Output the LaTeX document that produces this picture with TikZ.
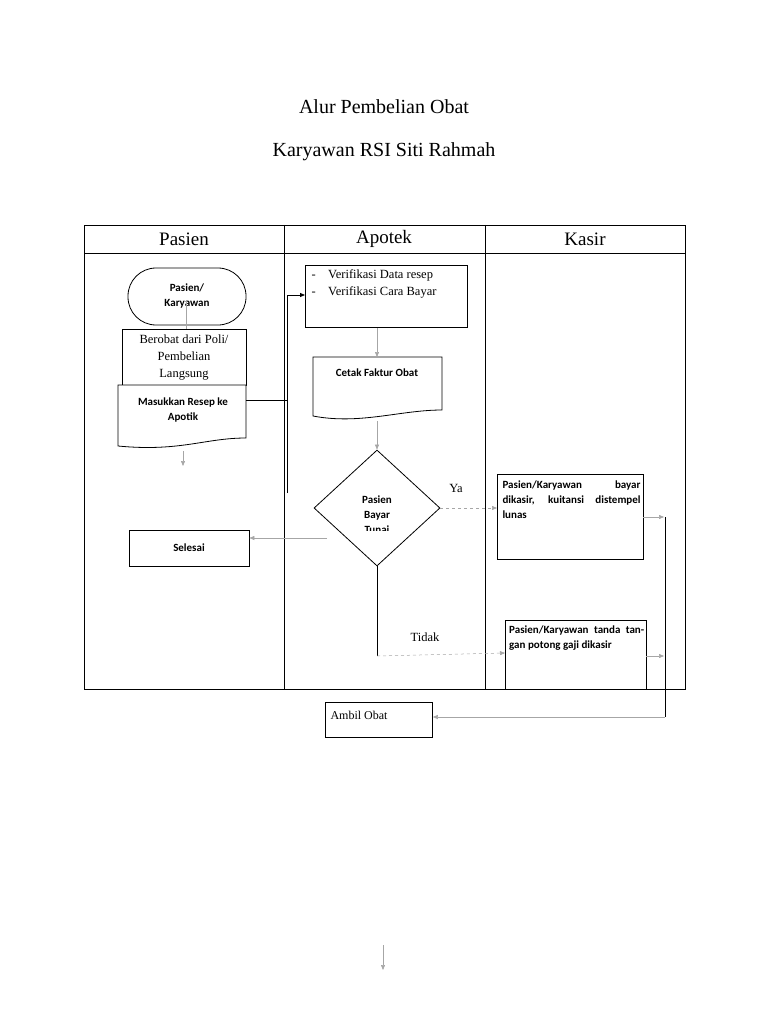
\documentclass[tikz,border=0pt]{standalone}
\usepackage{fontspec}
\setmainfont{Liberation Serif}
\newfontfamily\sansb{Carlito}
\usetikzlibrary{arrows.meta,shapes.geometric}
\begin{document}
\begin{tikzpicture}[x=1pt,y=-1pt,
  line/.style={draw=black,line width=0.8pt},
  arr/.style={-{Triangle[length=5pt,width=4pt]}},
  gr/.style={draw=black!35,line width=0.5pt},
  bt/.style={font=\sansb\bfseries\fontsize{11}{15}\selectfont,align=center},
  st/.style={font=\fontsize{12.5}{17}\selectfont,align=center}]
\useasboundingbox (0,0) rectangle (768,1024);
\node (t1) at (384,107) {\fontsize{20}{24}\selectfont Alur Pembelian Obat};
\node (t2) at (384,152) {\fontsize{20}{24}\selectfont Karyawan RSI Siti Rahmah};
% table
\draw[line] (84,225) rectangle (685,689);
\draw[line] (84,253) -- (685,253);
\draw[line] (284,225) -- (284,689);
\draw[line] (485,225) -- (485,689);
\node (h1) at (184,239) {\fontsize{19}{22}\selectfont Pasien};
\node (h2) at (384,239) {\fontsize{19}{22}\selectfont Apotek};
\node (h3) at (585,239) {\fontsize{19}{22}\selectfont Kasir};
% Pasien lane
\node[line,fill=white,rounded corners=28pt,minimum width=118pt,minimum height=57pt,bt] (start) at (187,296.5) {Pasien/\\Karyawan};
\draw[gr] (186,300) -- (186,329);
\node[line,fill=white,minimum width=124pt,minimum height=56pt,st,anchor=north west,inner sep=2pt,text depth=0pt] (berobat) at (122,329) {};
\begin{scope}
\clip (122,329) rectangle (246,385);
\node[st] (bt1) at (184,358) {Berobat dari Poli/\\Pembelian\\Langsung};
\end{scope}
\draw[line,fill=white] (118,385) -- (246,385) -- (246,438) .. controls (205,438) and (180,452) .. (118,446) -- cycle;
\node[bt] (masuk) at (183,410) {Masukkan Resep ke\\Apotik};
\coordinate (mr) at (246,400);
\coordinate (j1) at (287,400);
\coordinate (jt) at (287,295);
\coordinate (jb) at (287,493);
\draw[line] (mr) -- (j1);
\draw[line] (jb) -- (jt);
\coordinate (d1) at (183,451);
\coordinate (d2) at (183,466);
\draw[gr,arr] (d1) -- (d2);
\node[line,minimum width=120pt,minimum height=36pt,bt] (selesai) at (189,548) {Selesai};
% Apotek lane
\node[line,minimum width=162pt,minimum height=62pt,anchor=north west] (verif) at (305,265) {};
\node[font=\fontsize{12.5}{17}\selectfont,align=left,anchor=north west] (vt) at (308,266) {-\quad Verifikasi Data resep\\-\quad Verifikasi Cara Bayar};
\draw[line,arr] (jt) -- (verif.west|-jt);
\draw[line] (313,357) -- (442,357) -- (442,410) .. controls (400,410) and (360,425) .. (313,416) -- cycle;
\node[bt] (cetak) at (377,373) {Cetak Faktur Obat};
\coordinate (cettop) at (377,357);
\coordinate (cetbot) at (377,421);
\draw[gr,arr] (verif.south-|cettop) -- (cettop);
\node[line,diamond,minimum width=126pt,minimum height=116pt,inner sep=0pt] (dia) at (377,508) {};
\draw[gr,arr] (cetbot) -- (dia.north);
\begin{scope}
\clip (330,480) rectangle (430,530);
\node[bt] (dt) at (377,515) {Pasien\\Bayar\\Tunai};
\end{scope}
\node (ya) at (456,488) {\fontsize{12.5}{15}\selectfont Ya};
\node (tidak) at (425,637) {\fontsize{12.5}{15}\selectfont Tidak};
\coordinate (sl) at (327,538);
\draw[gr,arr] (sl) -- (selesai.east|-sl);
% Kasir
\node[line,minimum width=146pt,minimum height=85pt,anchor=north west] (k1) at (497,474) {};
\node[bt,text width=138pt,align=justify,anchor=north west] (k1t) at (499,477) {Pasien/Karyawan bayar dikasir, kuitansi distempel lunas};
\draw[line] (505,689) -- (505,620) -- (646,620) -- (646,689);
\node[bt,text width=135pt,align=justify,anchor=north west,inner sep=2pt] (k2t) at (507,624) {Pasien/Karyawan tanda tangan potong gaji dikasir};
\coordinate (k2w) at (505,653);
\coordinate (dbot) at (377,656);
\draw[gr,dashed,arr] (dia.east) -- (k1.west|-dia.east);
\draw[line] (dia.south) -- (dbot);
\draw[gr,dashed,arr] (dbot) -- (k2w);
\coordinate (r1a) at (643,517);
\coordinate (r1b) at (664,517);
\coordinate (r2a) at (646,656);
\coordinate (r2b) at (664,656);
\coordinate (rc) at (665,717);
\draw[gr,arr] (r1a) -- (r1b);
\draw[gr,arr] (r2a) -- (r2b);
\node[line,minimum width=107pt,minimum height=35pt,anchor=north west] (ambil) at (325,702) {};
\node[font=\fontsize{12}{15}\selectfont,anchor=west] (at) at (327,715) {Ambil Obat};
\draw[line] (665,517) -- (rc);
\draw[gr,arr] (rc) -- (ambil.east|-rc);
\coordinate (b1) at (383,945);
\coordinate (b2) at (383,970);
\draw[gr,arr] (b1) -- (b2);
\end{tikzpicture}
\end{document}
